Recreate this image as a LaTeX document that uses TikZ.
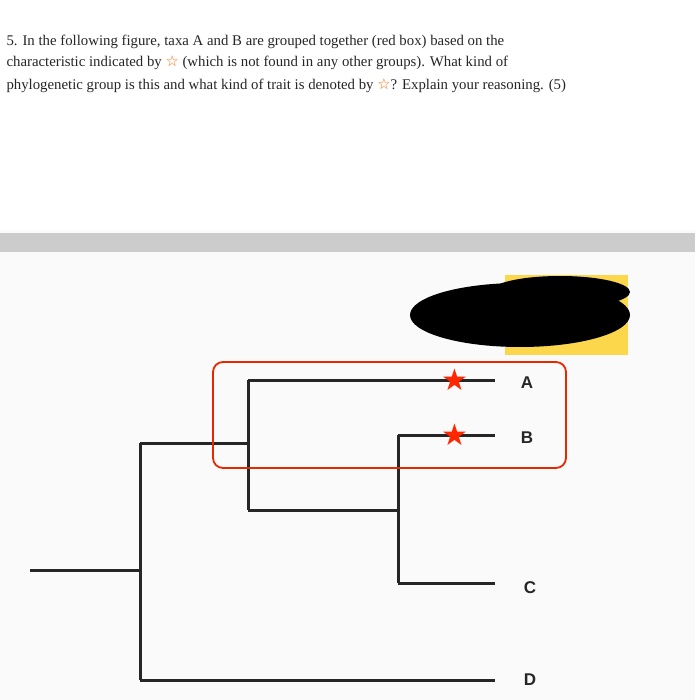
\documentclass[tikz,border=0pt]{standalone}
\usepackage{fontspec}
\setmainfont{Liberation Serif}
\newfontfamily\sym{DejaVu Sans}
\newfontfamily\lab{Liberation Sans}
\begin{document}
\begin{tikzpicture}[x=1pt,y=-1pt,
  br/.style={line width=3pt,draw=black!85},
  lbl/.style={font=\lab\bfseries\fontsize{17}{17}\selectfont,text=black!85},
  st/.style={font=\sym\fontsize{30}{30}\selectfont,text=red!70!orange},
  qtext/.style={anchor=west,font=\fontsize{14.8}{14.8}\selectfont,text=black!85}]
\fill[white!96!gray] (0,0) rectangle (695,700);
\fill[white] (0,0) rectangle (695,230);
\fill[gray!40] (0,233) rectangle (695,252);
\node[qtext] (t1) at (3,42) {5. In the following figure, taxa A and B are grouped together (red box) based on the};
\node[qtext] (t2) at (3,63) {characteristic indicated by {\sym\textcolor{orange!80!red}{☆}} (which is not found in any other groups). What kind of};
\node[qtext] (t3) at (3,86) {phylogenetic group is this and what kind of trait is denoted by {\sym\textcolor{orange!80!red}{☆}}? Explain your reasoning. (5)};
% scribble
\fill[yellow!60!orange!70] (505,275) rectangle (628,355);
\fill[black] (520,315) ellipse (110 and 32);
\fill[black] (560,292) ellipse (70 and 16);
% tree
\coordinate (r0) at (30,570); \coordinate (r1) at (140,570);
\coordinate (n1t) at (140,443); \coordinate (n1b) at (140,680);
\coordinate (n2) at (248,443); \coordinate (n2t) at (248,380); \coordinate (n2b) at (248,510);
\coordinate (n3) at (398,510); \coordinate (n3t) at (398,435); \coordinate (n3b) at (398,583);
\coordinate (ea) at (495,380); \coordinate (eb) at (495,435); \coordinate (ec) at (495,583); \coordinate (ed) at (495,680);
\draw[br] (r0) -- (r1);
\draw[br] (n1t) -- (n1b);
\draw[br] (n1t) -- (n2);
\draw[br] (n1b) -- (ed);
\draw[br] (n2t) -- (n2b);
\draw[br] (n2t) -- (ea);
\draw[br] (n2b) -- (n3);
\draw[br] (n3t) -- (n3b);
\draw[br] (n3t) -- (eb);
\draw[br] (n3b) -- (ec);
\node[st] (sa) at (455,380) {★};
\node[st] (sb) at (455,435) {★};
\node[lbl] (A) at (527,383) {A};
\node[lbl] (B) at (527,438) {B};
\node[lbl] (C) at (530,588) {C};
\node[lbl] (D) at (530,680) {D};
\draw[red!65!orange!90!black,line width=1.8pt,rounded corners=10pt] (213,362) rectangle (566,468);
\end{tikzpicture}
\end{document}
